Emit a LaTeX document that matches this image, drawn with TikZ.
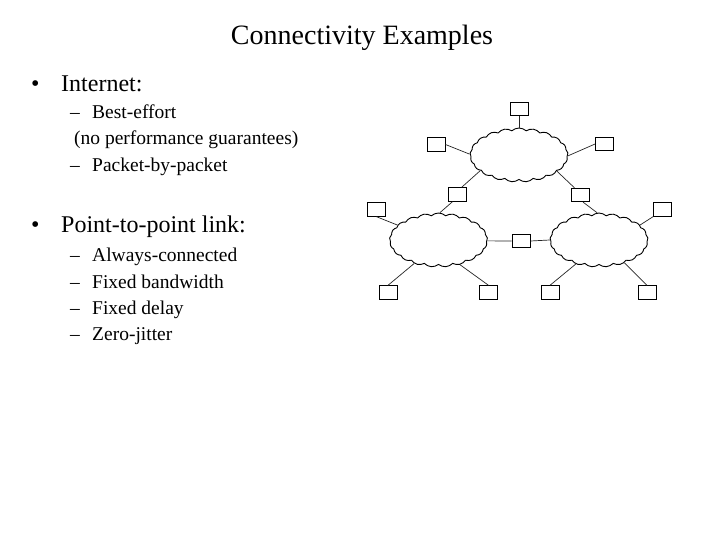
\documentclass[tikz,border=0pt]{standalone}
\usepackage{fontspec}
\setmainfont{Liberation Serif}
\usetikzlibrary{shapes.symbols}
\begin{document}
\begin{tikzpicture}[x=1pt,y=-1pt,
  netbox/.style={draw=black,line width=0.9pt,minimum width=18pt,minimum height=13.5pt,inner sep=0pt},
  netcloud/.style={cloud,draw=black,line width=0.9pt,cloud puffs=21,cloud puff arc=85,aspect=1.8,minimum width=98pt,minimum height=54pt,inner sep=0pt},
  link/.style={draw=black!85,line width=0.7pt},
  lvlone/.style={anchor=base west,inner sep=0pt,font=\fontsize{24}{28}\selectfont},
  lvltwo/.style={anchor=base west,inner sep=0pt,font=\fontsize{19.5}{23}\selectfont}]
\useasboundingbox[fill=white] (0,0) rectangle (720,540);
% title
\node[anchor=base,inner sep=0pt,font=\fontsize{28}{32}\selectfont] (title) at (362,45) {Connectivity Examples};
% bullets
\node[lvlone] (b1) at (31,92) {•};
\node[lvlone] (t1) at (61,92) {Internet:};
\node[lvltwo] (d1) at (70,119) {–};
\node[lvltwo] (t11) at (92,119) {Best-effort};
\node[lvltwo] (t12) at (74,145) {(no performance guarantees)};
\node[lvltwo] (d2) at (70,171.5) {–};
\node[lvltwo] (t13) at (92,171.5) {Packet-by-packet};
\node[lvlone] (b2) at (31,233) {•};
\node[lvlone] (t2) at (61,233) {Point-to-point link:};
\node[lvltwo] (d3) at (70,261.5) {–};
\node[lvltwo] (t21) at (92,261.5) {Always-connected};
\node[lvltwo] (d4) at (70,288) {–};
\node[lvltwo] (t22) at (92,288) {Fixed bandwidth};
\node[lvltwo] (d5) at (70,314) {–};
\node[lvltwo] (t23) at (92,314) {Fixed delay};
\node[lvltwo] (d6) at (70,340) {–};
\node[lvltwo] (t24) at (92,340) {Zero-jitter};
% clouds
\node[netcloud] (ctop) at (519,155) {};
\node[netcloud] (cleft) at (438.5,240) {};
\node[netcloud] (cright) at (599,240) {};
% boxes
\node[netbox] (btop) at (519,109) {};
\node[netbox] (bul) at (436,144.5) {};
\node[netbox] (bur) at (604.5,144) {};
\node[netbox] (bml) at (457.5,194.5) {};
\node[netbox] (bmr) at (580.5,195) {};
\node[netbox] (bfl) at (376.5,209.5) {};
\node[netbox] (bfr) at (662.5,209.5) {};
\node[netbox] (bc) at (521,241) {};
\node[netbox] (bb1) at (388,292.5) {};
\node[netbox] (bb2) at (488.5,292.5) {};
\node[netbox] (bb3) at (550,292.5) {};
\node[netbox] (bb4) at (647,292.5) {};
% links
\draw[link] (btop.south) -- (ctop.north);
\draw[link] (bul.east) -- (ctop.179);
\draw[link] (bur.west) -- (ctop.-1);
\draw[link] (ctop.202) -- (bml.60);
\draw[link] (bml.235) -- (cleft.87);
\draw[link] (ctop.337) -- (bmr.130);
\draw[link] (bmr.-70) -- (cright.94);
\draw[link] (bfl.south) -- (cleft.160);
\draw[link] (bfr.south west) -- (cright.20);
\draw[link] (cleft.-1) -- (bc.west);
\draw[link] (bc.east) -- (cright.180);
\draw[link] (cleft.224) -- (bb1.north);
\draw[link] (cleft.311) -- (bb2.north);
\draw[link] (cright.226) -- (bb3.north);
\draw[link] (cright.318) -- (bb4.north);
\end{tikzpicture}
\end{document}
